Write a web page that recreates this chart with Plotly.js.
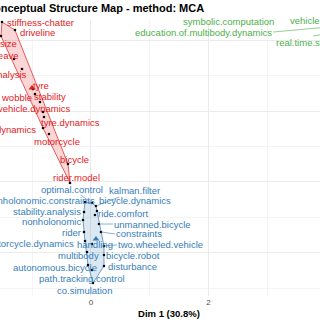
<!DOCTYPE html>
<html>
<head>
<meta charset="utf-8">
<script src="https://cdn.plot.ly/plotly-3.0.1.min.js"></script>
<style>
html,body{margin:0;padding:0;background:#fff;overflow:hidden;}
#wrap{position:relative;width:320px;height:320px;overflow:hidden;}
#chart{position:absolute;left:-40px;top:0;width:420px;height:320px;}
</style>
</head>
<body>
<div id="wrap"><div id="chart"></div></div>
<script>
// ---- data (Dim 1, Dim 2 coordinates) ----
const redWords = ["stiffness-chatter","driveline","size","weave","analysis","tyre","wobble","stability","vehicle.dynamics","tyre.dynamics","dynamics","motorcycle","bicycle","rider.model"];
const redX = [-1.515,-1.294,-1.532,-1.311,-1.174,-0.987,-0.953,-0.868,-0.817,-0.800,-0.817,-0.715,-0.391,-0.357];
const redY = [2.254,2.141,2.056,1.732,1.592,1.310,1.239,1.127,0.986,0.915,0.761,0.676,0.254,-0.014];

const blueWords = ["optimal.control","kalman.filter","nonholonomic.constraints","bicycle.dynamics","stability.analysis","ride.comfort","nonholonomic","unmanned.bicycle","constraints","rider","motorcycle.dynamics","handling","two.wheeled.vehicle","multibody","bicycle.robot","autonomous.bicycle","disturbance","path.tracking.control","co.simulation"];
const blueX = [0.017,0.085,-0.102,0.102,-0.119,0.068,-0.136,0.136,0.170,-0.119,-0.102,0.017,0.221,-0.068,0.221,-0.051,0.221,0.017,0.034];
const blueY = [-0.296,-0.338,-0.282,-0.408,-0.423,-0.465,-0.535,-0.592,-0.704,-0.704,-0.831,-0.873,-0.901,-0.986,-1.028,-1.169,-1.183,-1.239,-1.423];

const greenWords = ["symbolic.computation","education.of.multibody.dynamics","real.time.simulation","vehicle.model"];
const greenX = [4.170,4.409,4.323,4.340];
const greenY = [2.254,2.211,2.127,2.268];

const centroidX = [-1.004,0.085,4.310];
const centroidY = [1.324,-0.803,2.215];

const xTitle = "Dim 1 (30.8%)";
const chartTitle = "Conceptual Structure Map - method: MCA";

// ---- label placement (pixel offsets from point, like ggrepel) ----
const redLab = {dx:[4,23,17,5,6,8,-2,10,29,27,-6,8,6,6], dy:[1,2,7,-4,6,-4,3,-5,-4,5,2,7,-4,-5],
  anchor:["left","center","right","right","right","center","right","center","right","center","right","center","center","center"],
  seg:[0,0,0,0,0,0,0,0,0,0,0,0,0,0]};
const blueLab = {dx:[-20,39,11,38,-2,2,-1,14,14,-2,-10,3,13,-8,1,10,3,-10,-8], dy:[-14,-15,-2,-10,-1,-2,2,0,2,1,3,1,-1,4,1,3,1,9,7],
  anchor:["center","center","right","center","right","left","right","left","left","right","right","center","left","center","left","right","left","center","center"],
  seg:[1,1,0,0,0,0,0,1,1,0,0,0,1,0,0,0,0,0,0]};
const greenLab = {dx:[-61,-77,-70,-57], dy:[0,7,11,0], anchor:["right","right","left","left"], seg:[0,1,1,0]};

const RED="#E41A1C", BLUE="#377EB8", GREEN="#4DAF4A";
const FONT="Liberation Sans, Arial, sans-serif";

function hull(xs, ys){
  const p = xs.map((x,i)=>[x,ys[i]]).sort((a,b)=>a[0]-b[0]||a[1]-b[1]);
  const cross=(o,a,b)=>(a[0]-o[0])*(b[1]-o[1])-(a[1]-o[1])*(b[0]-o[0]);
  const lo=[],up=[];
  for(const q of p){while(lo.length>=2&&cross(lo[lo.length-2],lo[lo.length-1],q)<=0)lo.pop();lo.push(q);}
  for(const q of p.slice().reverse()){while(up.length>=2&&cross(up[up.length-2],up[up.length-1],q)<=0)up.pop();up.push(q);}
  const h=lo.slice(0,-1).concat(up.slice(0,-1)); h.push(h[0]);
  return {x:h.map(q=>q[0]), y:h.map(q=>q[1])};
}
function hullTrace(xs,ys,col,fill){
  const h=hull(xs,ys);
  return {x:h.x,y:h.y,mode:"lines",fill:"toself",fillcolor:fill,line:{color:col,width:0.7},hoverinfo:"skip",showlegend:false};
}
function pts(xs,ys){
  return {x:xs,y:ys,mode:"markers",marker:{color:"#000",size:2.6},hoverinfo:"skip",showlegend:false};
}
function anns(words,xs,ys,lab,col){
  return words.map((w,i)=>({x:xs[i],y:ys[i],xref:"x",yref:"y",text:w,showarrow:true,
    ax:lab.dx[i],ay:lab.dy[i],xanchor:lab.anchor[i],yanchor:"middle",arrowhead:0,arrowwidth:0.6,standoff:0,
    arrowcolor: lab.seg[i]? col : "rgba(0,0,0,0)", borderpad:0,
    font:{family:FONT,size:9.5,color:col}}));
}

const traces = [
  hullTrace(redX,redY,RED,"rgba(228,26,28,0.18)"),
  hullTrace(blueX,blueY,BLUE,"rgba(55,126,184,0.18)"),
  hullTrace(greenX,greenY,GREEN,"rgba(77,175,74,0.18)"),
  pts(redX,redY), pts(blueX,blueY), pts(greenX,greenY),
  {x:centroidX,y:centroidY,mode:"markers",marker:{symbol:"triangle-up",size:6,color:[RED,BLUE,GREEN]},hoverinfo:"skip",showlegend:false}
];

const layout = {
  width:420,height:320,
  margin:{l:26,r:28,t:20,b:24},
  paper_bgcolor:"#fff",plot_bgcolor:"#fff",
  font:{family:FONT},
  title:{text:"<b>"+chartTitle+"</b>",x:0,xref:"paper",xanchor:"left",y:0.975,yref:"container",yanchor:"middle",font:{size:11,color:"#000",family:FONT}},
  xaxis:{range:[-1.787,4.443],tick0:0,dtick:2,showgrid:true,gridcolor:"#ebebeb",gridwidth:1,zeroline:false,showline:false,ticks:"",
    tickfont:{size:8,color:"#4d4d4d",family:FONT},
    minor:{tick0:0,dtick:1,showgrid:true,gridcolor:"#f0f0f0",gridwidth:0.7},
    title:{text:"<b>"+xTitle+"</b>",font:{size:9.5,color:"#000",family:FONT},standoff:4}},
  yaxis:{range:[-1.606,2.282],tick0:0,dtick:1,showgrid:true,gridcolor:"#ebebeb",gridwidth:1,zeroline:false,showline:false,ticks:"",showticklabels:false,
    minor:{tick0:0,dtick:0.5,showgrid:true,gridcolor:"#f0f0f0",gridwidth:0.7}},
  annotations:[].concat(anns(redWords,redX,redY,redLab,RED),anns(blueWords,blueX,blueY,blueLab,BLUE),anns(greenWords,greenX,greenY,greenLab,GREEN))
};
Plotly.newPlot("chart",traces,layout,{staticPlot:true,displayModeBar:false});
</script>
</body>
</html>
